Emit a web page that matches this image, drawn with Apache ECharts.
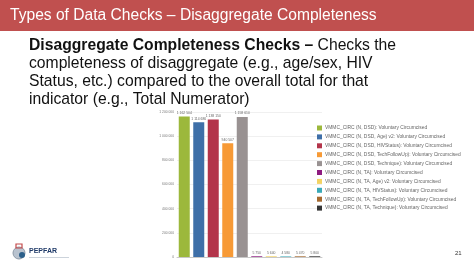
<!DOCTYPE html>
<html>
<head>
<meta charset="utf-8">
<script src="https://cdn.jsdelivr.net/npm/echarts@6/dist/echarts.min.js"></script>
<style>
  html, body { margin: 0; padding: 0; background: #fff; }
  #chart { width: 474px; height: 266px; }
</style>
</head>
<body>
<div id="chart"></div>
<script>
const seriesNames = [
  'VMMC_CIRC (N, DSD): Voluntary Circumcised',
  'VMMC_CIRC (N, DSD, Age) v2: Voluntary Circumcised',
  'VMMC_CIRC (N, DSD, HIVStatus): Voluntary Circumcised',
  'VMMC_CIRC (N, DSD, TechFollowUp): Voluntary Circumcised',
  'VMMC_CIRC (N, DSD, Technique): Voluntary Circumcised',
  'VMMC_CIRC (N, TA): Voluntary Circumcised',
  'VMMC_CIRC (N, TA, Age) v2: Voluntary Circumcised',
  'VMMC_CIRC (N, TA, HIVStatus): Voluntary Circumcised',
  'VMMC_CIRC (N, TA, TechFollowUp): Voluntary Circumcised',
  'VMMC_CIRC (N, TA, Technique): Voluntary Circumcised'
]
const values = [1162504, 1114686, 1138150, 940507, 1158610, 5750, 5640, 4580, 5470, 5800]
const colors = ['#9cb83c', '#3e6fa8', '#b3344a', '#f79a36', '#999292',
                '#8e1b80', '#f3d363', '#3aaab8', '#a5692e', '#353535']
const yTicks = [0, 200000, 400000, 600000, 800000, 1000000, 1200000]

const fmt = v => String(v).replace(/\B(?=(\d{3})+(?!\d))/g, ' ')

const chart = echarts.init(document.getElementById('chart'))

// one slot per series, stacked so each bar sits centred in its own slot
const series = seriesNames.map((name, i) => ({
  name,
  type: 'bar',
  stack: 'all',
  barWidth: 11,
  itemStyle: { color: colors[i] },
  label: {
    show: true, position: 'top', distance: 2,
    fontSize: 3.4, color: '#666', fontFamily: 'Liberation Sans',
    formatter: p => fmt(p.value)
  },
  data: values.map((v, j) => (j === i ? v : '-'))
}))

const option = {
  animation: false,
  backgroundColor: '#fff',
  grid: { left: 177, right: 152, top: 112, bottom: 9, containLabel: false },
  xAxis: {
    type: 'category',
    data: seriesNames.map((_, i) => i),
    axisTick: { show: false },
    axisLabel: { show: false },
    axisLine: { lineStyle: { color: '#c8c8c8', width: 1 } }
  },
  yAxis: {
    type: 'value',
    min: yTicks[0],
    max: yTicks[yTicks.length - 1],
    interval: 200000,
    axisLine: { show: false },
    axisTick: { show: false },
    axisLabel: { fontSize: 3.3, color: '#777', margin: 3, formatter: v => fmt(v) },
    splitLine: { lineStyle: { color: '#f0f0f0' } }
  },
  legend: {
    orient: 'vertical',
    left: 317,
    top: 125,
    padding: 0,
    itemWidth: 5,
    itemHeight: 5,
    itemGap: 2.9,
    icon: 'rect',
    textStyle: { fontSize: 4.9, lineHeight: 6, color: '#666', fontFamily: 'Liberation Sans', padding: [0, 0, 0, -2] },
    data: seriesNames
  },
  graphic: [
    { type: 'rect', shape: { x: 0, y: 0, width: 474, height: 31 }, style: { fill: '#c0504f' } },
    {
      type: 'text', left: 10, top: 8,
      style: {
        text: 'Types of Data Checks \u2013 Disaggregate Completeness',
        fill: '#fff', fontSize: 15.6, fontFamily: 'Liberation Sans'
      }
    },
    {
      type: 'text', left: 29, top: 37,
      style: {
        text: '{b|Disaggregate Completeness Checks \u2013} Checks the\n' +
              'completeness of disaggregate (e.g., age/sex, HIV\n' +
              'Status, etc.) compared to the overall total for that\n' +
              'indicator (e.g., Total Numerator)',
        fill: '#111', fontSize: 15.7, lineHeight: 18, fontFamily: 'Liberation Sans',
        rich: { b: { fontWeight: 'bold', fontSize: 15.7, lineHeight: 18, fill: '#111', fontFamily: 'Liberation Sans' } }
      }
    },
    // PEPFAR logo
    { type: 'circle', shape: { cx: 19, cy: 253, r: 6 }, style: { fill: '#b9c3cf', stroke: '#8e9aa8', lineWidth: 1 } },
    { type: 'rect', shape: { x: 16, y: 244, width: 6, height: 4 }, style: { fill: 'none', stroke: '#c44a4a', lineWidth: 1.2 } },
    { type: 'circle', shape: { cx: 22, cy: 255, r: 3 }, style: { fill: '#2c5f8a' } },
    {
      type: 'text', left: 29, top: 248,
      style: { text: 'PEPFAR', fill: '#1f3a68', fontSize: 7, fontWeight: 'bold', fontFamily: 'Liberation Sans' }
    },
    { type: 'rect', shape: { x: 29, y: 257, width: 40, height: 0.6 }, style: { fill: '#9aa7b7' } },
    {
      type: 'text', left: 455, top: 250,
      style: { text: '21', fill: '#333', fontSize: 6, fontFamily: 'Liberation Sans' }
    }
  ],
  series
}

chart.setOption(option)
</script>
</body>
</html>
